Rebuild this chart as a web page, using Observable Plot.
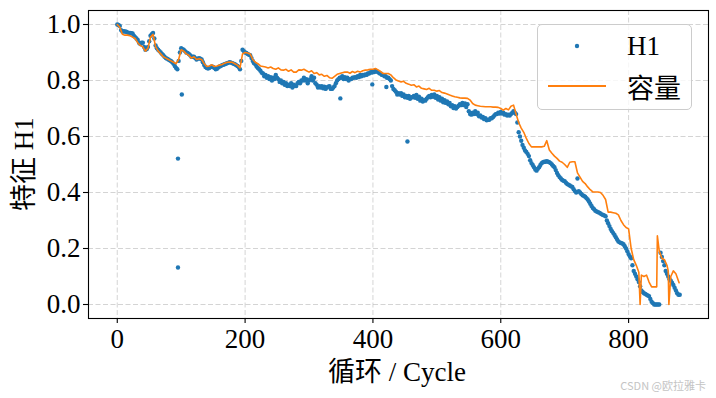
<!DOCTYPE html>
<html>
<head>
<meta charset="utf-8">
<script src="https://cdn.jsdelivr.net/npm/d3@7"></script>
<script src="https://cdn.jsdelivr.net/npm/@observablehq/plot@0.6"></script>
<style>
  html, body { margin: 0; padding: 0; background: white; }
  #wrap { position: relative; width: 716px; height: 398px; overflow: hidden; font-family: "Liberation Serif", "Times New Roman", "Noto Sans CJK SC", serif; }
  #wrap svg { position: absolute; left: 0; top: 0; }
  .lbl { position: absolute; font-size: 27px; color: #000; white-space: nowrap; line-height: 1; }
  #legend { position: absolute; left: 537px; top: 24px; width: 155px; height: 86px; border: 1px solid #cccccc; border-radius: 5px; background: rgba(255,255,255,0.8); box-sizing: border-box; }
  #wm { position: absolute; right: 10px; top: 377px; font-family: "Noto Sans CJK SC", "DejaVu Sans", sans-serif; font-size: 11px; color: #c4c4c4; white-space: nowrap; }
</style>
</head>
<body>
<div id="wrap"></div>
<script>
// ---- data ----
const xTicks = [0, 200, 400, 600, 800];
const yTicks = [0.0, 0.2, 0.4, 0.6, 0.8, 1.0];
const seriesNames = ["H1", "容量"];
const xLabel = "循环 / Cycle";
const yLabel = "特征 H1";

// H1 (feature) readings at cycles 0, 4, 8, ... 880
const h1StartA = 0, h1Step = 4;
const h1ValuesA = [
  1.0, 0.995, 0.975, 0.975, 0.972, 0.97, 0.968, 0.955, 0.945, 0.93,
  0.935, 0.91, 0.92, 0.96, 0.97, 0.925, 0.91, 0.9, 0.89, 0.88,
  0.875, 0.87, 0.86, 0.845, 0.87, 0.915, 0.91, 0.9, 0.895, 0.885,
  0.885, 0.875, 0.88, 0.875, 0.855, 0.845, 0.845, 0.85, 0.845, 0.842,
  0.85, 0.855, 0.858, 0.862, 0.865, 0.862, 0.858, 0.852, 0.84, 0.91,
  0.9, 0.895, 0.89, 0.87, 0.858, 0.845, 0.835, 0.825, 0.82, 0.815,
  0.812, 0.81, 0.82, 0.805, 0.8, 0.795, 0.79, 0.785, 0.79, 0.785,
  0.78, 0.795, 0.8, 0.81, 0.805, 0.8, 0.815, 0.81, 0.785, 0.78,
  0.78, 0.778, 0.775, 0.78, 0.77, 0.78, 0.8, 0.81, 0.815, 0.812,
  0.81, 0.805, 0.81, 0.812, 0.815, 0.82, 0.82, 0.822, 0.825, 0.83,
  0.832, 0.835, 0.83, 0.825, 0.82, 0.815, 0.81, 0.8, 0.77, 0.76,
  0.755, 0.755, 0.75, 0.745, 0.745, 0.74, 0.745, 0.748, 0.742, 0.735,
  0.73, 0.735, 0.745, 0.748, 0.75, 0.745, 0.74, 0.735, 0.73, 0.725,
  0.72, 0.712, 0.708, 0.705, 0.715, 0.72, 0.718, 0.715, 0.68, 0.685,
  0.69, 0.685, 0.675, 0.67, 0.665, 0.66, 0.665, 0.67, 0.68, 0.685,
  0.688, 0.685, 0.68, 0.678, 0.68, 0.69, 0.68, 0.615, 0.585, 0.56,
  0.545, 0.53, 0.505, 0.49, 0.478, 0.49, 0.505, 0.51, 0.512, 0.508,
  0.5, 0.49, 0.47, 0.455, 0.445, 0.44, 0.43, 0.425, 0.42, 0.405,
  0.45, 0.4, 0.39, 0.385, 0.375, 0.36, 0.345, 0.335, 0.33, 0.325,
  0.32, 0.315, 0.29, 0.27, 0.255, 0.24, 0.225, 0.22, 0.215, 0.2,
  0.18, 0.165, 0.12, 0.1, 0.08, 0.05, 0.04, 0.035, 0.03, 0.01,
  0.0, 0.0, 0.0, 0.17, 0.14, 0.11, 0.09, 0.078, 0.06, 0.04,
  0.035
];
// H1 readings at cycles 2, 6, 10, ... 878 (the other edge of the band)
const h1StartB = 2;
const h1ValuesB = [
  0.998, 0.98, 0.976, 0.974, 0.97, 0.969, 0.96, 0.95, 0.935, 0.935,
  0.92, 0.912, 0.94, 0.965, 0.95, 0.915, 0.905, 0.895, 0.885, 0.878,
  0.872, 0.865, 0.852, 0.84, 0.9, 0.912, 0.905, 0.898, 0.89, 0.885,
  0.88, 0.878, 0.878, 0.865, 0.848, 0.843, 0.848, 0.848, 0.84, 0.846,
  0.852, 0.856, 0.86, 0.864, 0.864, 0.86, 0.855, 0.848, 0.87, 0.905,
  0.898, 0.892, 0.88, 0.862, 0.85, 0.84, 0.828, 0.815, 0.81, 0.805,
  0.8, 0.805, 0.81, 0.795, 0.79, 0.785, 0.78, 0.78, 0.775, 0.78,
  0.79, 0.79, 0.8, 0.8, 0.79, 0.805, 0.8, 0.79, 0.775, 0.775,
  0.772, 0.77, 0.778, 0.77, 0.775, 0.79, 0.805, 0.81, 0.805, 0.805,
  0.8, 0.805, 0.81, 0.81, 0.812, 0.815, 0.818, 0.82, 0.825, 0.828,
  0.83, 0.832, 0.826, 0.82, 0.815, 0.81, 0.805, 0.78, 0.765, 0.75,
  0.75, 0.745, 0.74, 0.738, 0.735, 0.74, 0.738, 0.735, 0.728, 0.725,
  0.728, 0.74, 0.74, 0.742, 0.738, 0.732, 0.728, 0.722, 0.72, 0.715,
  0.708, 0.702, 0.7, 0.71, 0.712, 0.712, 0.705, 0.69, 0.678, 0.68,
  0.68, 0.672, 0.668, 0.662, 0.658, 0.66, 0.665, 0.675, 0.68, 0.682,
  0.682, 0.678, 0.675, 0.675, 0.685, 0.685, 0.65, 0.6, 0.57, 0.55,
  0.538, 0.515, 0.498, 0.482, 0.485, 0.498, 0.508, 0.51, 0.51, 0.505,
  0.495, 0.48, 0.462, 0.45, 0.442, 0.435, 0.428, 0.422, 0.412, 0.4,
  0.405, 0.395, 0.388, 0.38, 0.368, 0.352, 0.34, 0.332, 0.328, 0.322,
  0.318, 0.3, 0.28, 0.262, 0.248, 0.232, 0.222, 0.218, 0.208, 0.19,
  0.172, 0.14, 0.11, 0.09, 0.065, 0.045, 0.038, 0.032, 0.02, 0.005,
  0.0, 0.0, 0.185, 0.155, 0.12, 0.1, 0.085, 0.07, 0.05, 0.035
];
// isolated H1 outliers
const h1OutlierCycles = [95, 95, 101, 349, 399, 421, 454];
const h1OutlierValues = [0.521, 0.132, 0.75, 0.736, 0.786, 0.777, 0.582];

// capacity (容量) at cycles 0, 4, 8, ... 816
const capStart = 0, capStep = 4;
const capValues = [
  1.0, 0.99, 0.965, 0.962, 0.962, 0.96, 0.955, 0.95, 0.935, 0.925,
  0.92, 0.905, 0.915, 0.955, 0.965, 0.92, 0.905, 0.895, 0.885, 0.88,
  0.875, 0.87, 0.865, 0.86, 0.875, 0.91, 0.905, 0.895, 0.89, 0.88,
  0.885, 0.875, 0.878, 0.875, 0.86, 0.85, 0.852, 0.856, 0.85, 0.852,
  0.855, 0.857, 0.862, 0.865, 0.866, 0.865, 0.86, 0.855, 0.845, 0.895,
  0.9, 0.898, 0.895, 0.875, 0.865, 0.86, 0.852, 0.85, 0.848, 0.845,
  0.848, 0.843, 0.84, 0.845, 0.838, 0.837, 0.84, 0.833, 0.838, 0.83,
  0.83, 0.838, 0.837, 0.84, 0.835, 0.83, 0.835, 0.825, 0.828, 0.82,
  0.822, 0.815, 0.818, 0.81, 0.808, 0.815, 0.822, 0.825, 0.828, 0.83,
  0.83, 0.826, 0.832, 0.828, 0.833, 0.83, 0.835, 0.837, 0.838, 0.84,
  0.84, 0.843, 0.838, 0.832, 0.825, 0.825, 0.825, 0.82, 0.81, 0.802,
  0.798, 0.795, 0.797, 0.79, 0.787, 0.783, 0.785, 0.777, 0.78, 0.772,
  0.77, 0.768, 0.772, 0.765, 0.765, 0.762, 0.764, 0.757, 0.755, 0.752,
  0.748, 0.745, 0.742, 0.74, 0.738, 0.737, 0.737, 0.736, 0.73, 0.718,
  0.712, 0.71, 0.708, 0.707, 0.706, 0.706, 0.706, 0.705, 0.705, 0.704,
  0.7, 0.694, 0.7, 0.695, 0.708, 0.712, 0.68, 0.65, 0.63, 0.615,
  0.593, 0.575, 0.563, 0.563, 0.563, 0.563, 0.563, 0.565, 0.585, 0.552,
  0.54, 0.53, 0.522, 0.512, 0.508, 0.5, 0.49, 0.508, 0.51, 0.51,
  0.47, 0.455, 0.44, 0.432, 0.42, 0.41, 0.402, 0.402, 0.402, 0.4,
  0.39, 0.375, 0.33, 0.33, 0.328, 0.326, 0.32, 0.3, 0.285, 0.275,
  0.27, 0.2, 0.16, 0.14, 0.115
];
// capacity tail (irregular cycles, with the drops and the spike)
const capTailCycles = [818, 820, 824, 828, 832, 836, 840, 844, 845, 848, 852, 856, 860, 862, 863, 866, 870, 874, 879];
const capTailValues = [0.0, 0.105, 0.1, 0.105, 0.08, 0.063, 0.063, 0.063, 0.245, 0.19, 0.165, 0.16, 0.14, 0.12, 0.0, 0.1, 0.12, 0.11, 0.078];

// ---- build tables ----
const h1Data = h1ValuesA.map((v, i) => ({cycle: h1StartA + i * h1Step, value: v}))
  .concat(h1ValuesB.map((v, i) => ({cycle: h1StartB + i * h1Step, value: v})))
  .concat(h1OutlierCycles.map((c, i) => ({cycle: c, value: h1OutlierValues[i]})));
const capData = capValues.map((v, i) => ({cycle: capStart + i * capStep, value: v}))
  .concat(capTailCycles.map((c, i) => ({cycle: c, value: capTailValues[i]})));

const blue = "#1f77b4", orange = "#ff7f0e";
const gridStyle = {stroke: "#b0b0b0", strokeOpacity: 0.55, strokeDasharray: "5,2.5", strokeWidth: 1};

const chart = Plot.plot({
  width: 716,
  height: 398,
  marginLeft: 88,
  marginRight: 8,
  marginTop: 10,
  marginBottom: 80,
  style: {fontFamily: "'Liberation Serif', 'Times New Roman', serif", fontSize: "27px", background: "white", color: "black", overflow: "visible"},
  x: {domain: [-45, 925]},
  y: {domain: [-0.05, 1.05]},
  marks: [
    Plot.gridX(xTicks, gridStyle),
    Plot.gridY(yTicks, gridStyle),
    Plot.dot(h1Data, {x: "cycle", y: "value", r: 2.2, fill: blue, stroke: "none"}),
    Plot.line(capData, {x: "cycle", y: "value", stroke: orange, strokeWidth: 1.6}),
    Plot.frame({stroke: "black", strokeWidth: 1.1}),
    Plot.axisX(xTicks, {tickSize: 5, tickPadding: 5, label: null, fontSize: 27, strokeWidth: 1.1}),
    Plot.axisY(yTicks, {tickSize: 5, tickPadding: 3, tickFormat: d3.format(".1f"), label: null, fontSize: 27, strokeWidth: 1.1})
  ]
});

const wrap = document.getElementById("wrap");
wrap.appendChild(chart);

// axis titles
const xl = document.createElement("div");
xl.className = "lbl";
xl.textContent = xLabel;
xl.style.left = "397px"; xl.style.top = "372px";
xl.style.transform = "translate(-50%, -50%)";
wrap.appendChild(xl);

const yl = document.createElement("div");
yl.className = "lbl";
yl.textContent = yLabel;
yl.style.left = "24px"; yl.style.top = "164px";
yl.style.transform = "translate(-50%, -50%) rotate(-90deg)";
wrap.appendChild(yl);

// legend
const lg = document.createElement("div");
lg.id = "legend";
lg.innerHTML = `
  <svg width="155" height="86" style="position:absolute;left:0;top:0">
    <circle cx="39" cy="21" r="2.2" fill="${blue}"></circle>
    <line x1="10" x2="68" y1="61" y2="61" stroke="${orange}" stroke-width="2"></line>
  </svg>
  <div class="lbl" style="left:89px; top:21px; transform:translateY(-50%)">${seriesNames[0]}</div>
  <div class="lbl" style="left:89px; top:64px; transform:translateY(-50%)">${seriesNames[1]}</div>`;
wrap.appendChild(lg);

// watermark
const wm = document.createElement("div");
wm.id = "wm";
wm.textContent = "CSDN @欧拉雅卡";
wrap.appendChild(wm);
</script>
</body>
</html>
